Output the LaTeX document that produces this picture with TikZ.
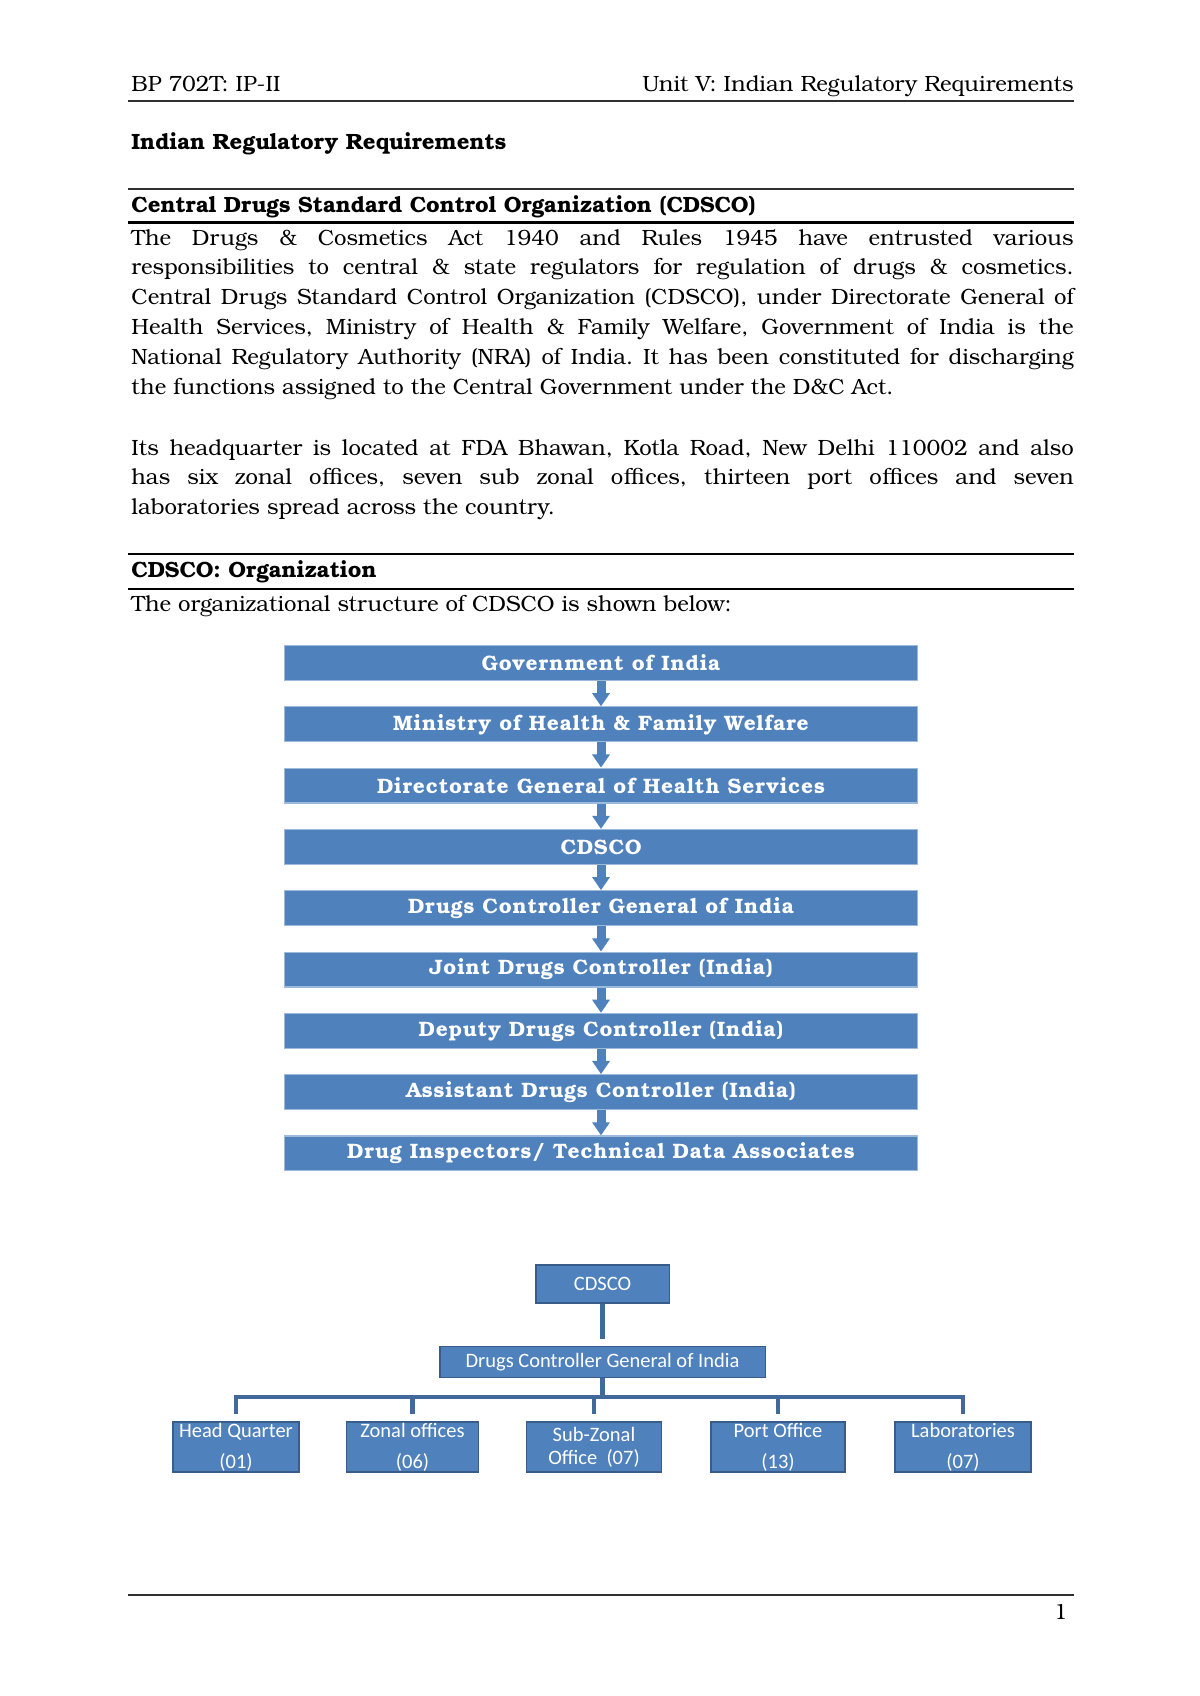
\documentclass[tikz,border=0pt]{standalone}
\usepackage{fontspec}
\setmainfont{TeX Gyre Bonum}
\newfontfamily\calibri{Carlito}
\newfontfamily\boxfont{TeX Gyre Bonum}[LetterSpace=4]
\usetikzlibrary{arrows.meta}

\definecolor{boxblue}{HTML}{4F81BD}
\definecolor{edgeblue}{HTML}{385D8A}
\definecolor{linkblue}{HTML}{41699C}
\definecolor{rulegray}{HTML}{303030}

\tikzset{
  txt/.style={anchor=base west, inner sep=0pt, font=\fontsize{11}{14.9}\selectfont\frenchspacing},
  head/.style={txt, font=\fontsize{11}{14.9}\selectfont\bfseries},
  para/.style={txt, text width=164.9mm, align=justify},
  thinrule/.style={draw=rulegray, line width=0.25mm},
  thickrule/.style={draw=black, line width=0.45mm},
  flowbox/.style={fill=boxblue, draw=boxblue!55!white, line width=0.2mm,
    minimum width=110.8mm, minimum height=6.1mm, inner sep=0pt,
    text=white, font=\boxfont\fontsize{10.4}{12}\selectfont\bfseries},
  flowarrow/.style={draw=boxblue, line width=1.575mm,
    -{Triangle[width=2.975mm, length=2.3mm]}},
  orgbox/.style={fill=boxblue, draw=edgeblue, line width=0.3mm, inner sep=0pt,
    text=white, align=center, font=\calibri\fontsize{10.2}{15.4}\selectfont},
  link/.style={draw=linkblue, line width=0.8mm}
}

\begin{document}
\begin{tikzpicture}[x=0.175mm, y=-0.175mm]
  \useasboundingbox (0,0) rectangle (1200,1696);
  \def\leftX{131} % left edge of the text
  \def\rightX{1074} % right edge of the rules
  \def\chartX{601} % centre of the first chart
  \def\orgX{602.5} % centre of the second chart
  \def\pitch{61.3} % distance between two boxes

  % Page head
  \node[txt] (hdleft) at (\leftX,91) {BP 702T: IP-II};
  \node[txt, anchor=base east] (hdright) at (\rightX,91) {Unit V: Indian Regulatory Requirements};
  \draw[thinrule] (128,101) -- (\rightX,101);

  % Title and first section
  \node[head] (title) at (\leftX,149) {Indian Regulatory Requirements};
  \draw[thinrule] (128,189) -- (\rightX,189);
  \node[head] (sec1) at (\leftX,212) {Central Drugs Standard Control Organization (CDSCO)};
  \draw[thickrule] (128,222.5) -- (\rightX,222.5);
  \node[para] (para1) at (\leftX,245) {The Drugs \& Cosmetics Act 1940 and Rules 1945 have entrusted various\linebreak
    responsibilities to central \& state regulators for regulation of drugs \& cosmetics.\linebreak
    Central Drugs Standard Control Organization (CDSCO), under Directorate General of\linebreak
    Health Services, Ministry of Health \& Family Welfare, Government of India is the\linebreak
    National Regulatory Authority (NRA) of India. It has been constituted for discharging\linebreak
    the functions assigned to the Central Government under the D\&C Act.};
  \node[para] (para2) at (\leftX,455) {Its headquarter is located at FDA Bhawan, Kotla Road, New Delhi 110002 and also\linebreak
    has six zonal offices, seven sub zonal offices, thirteen port offices and seven\linebreak
    laboratories spread across the country.};

  % Second section
  \draw[thickrule] (128,554) -- (\rightX,554);
  \node[head] (sec2) at (\leftX,577) {CDSCO: Organization};
  \draw[thickrule] (128,589) -- (\rightX,589);
  \node[txt] (intro) at (\leftX,611) {The organizational structure of CDSCO is shown below:};

  % First chart: one box under the other
  \foreach \txt [count=\i from 0] in {Government of India, Ministry of Health \& Family Welfare,
      Directorate General of Health Services, CDSCO, Drugs Controller General of India,
      Joint Drugs Controller (India), Deputy Drugs Controller (India),
      Assistant Drugs Controller (India), Drug Inspectors/ Technical Data Associates} {
    \node[flowbox] (b\i) at (\chartX, 663 + \i * \pitch) {\txt};
  }
  \foreach \i in {0, 1, ..., 7} {
    \pgfmathtruncatemacro{\j}{\i + 1}
    \draw[flowarrow] (b\i.south) -- (b\j.north);
  }

  % Second chart: CDSCO and its offices
  \node[orgbox, minimum width=23.4mm, minimum height=6.6mm] (top) at (\orgX,1284) {CDSCO};
  \node[orgbox, minimum width=57mm, minimum height=5.4mm] (dcgi) at (\orgX,1362) {Drugs Controller General of India};
  \draw[link, shorten >=1.2mm] (top.south) -- (dcgi.north);
  \coordinate (bus) at (\orgX,1397);
  \draw[link] (dcgi.south) -- (bus);
  \foreach \x/\w/\txt/\name in {236/126/{Head Quarter\\(01)}/hq, 412.5/132/{Zonal offices\\(06)}/zonal,
      594/135/{Sub-Zonal\\[-3.8pt]Office~~(07)}/subzonal, 778/134/{Port Office\\(13)}/port,
      963/136/{Laboratories\\(07)}/lab} {
    \node[orgbox, minimum width=\w*0.175mm, minimum height=8.75mm] (\name) at (\x,1447) {\txt};
    \draw[link, shorten >=1.2mm] (bus) -| (\name.north);
  }

  % Page foot
  \draw[thinrule] (128,1595) -- (\rightX,1595);
  \node[txt, anchor=base east] (pagenum) at (1068,1619) {1};
\end{tikzpicture}
\end{document}
